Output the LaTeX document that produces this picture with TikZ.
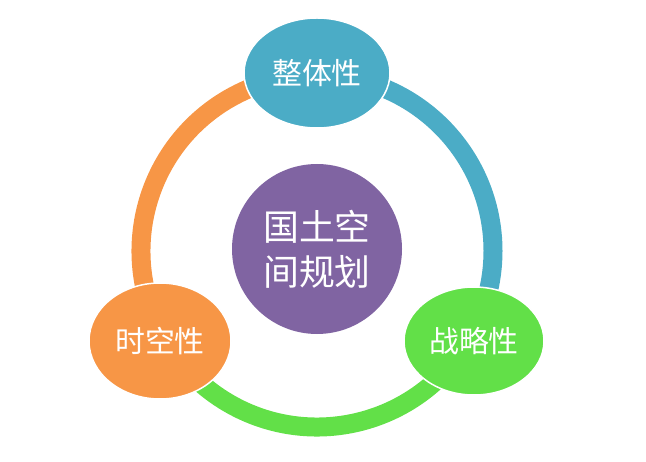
\documentclass[tikz,border=0pt]{standalone}
\usepackage{fontspec}
\newfontfamily\cjk{Noto Sans CJK SC}
\usetikzlibrary{shapes.geometric}
\definecolor{cteal}{RGB}{75,172,198}
\definecolor{corange}{RGB}{247,150,70}
\definecolor{cgreen}{RGB}{98,224,72}
\definecolor{cpurple}{RGB}{128,100,162}
\tikzset{
  ring/.style={line width=19bp, line cap=butt},
  petal/.style={ellipse, draw=white, line width=1.5bp, inner sep=0pt, text=white,
    font=\cjk\fontsize{30}{34}\selectfont},
}
\begin{document}
\begin{tikzpicture}[x=1bp,y=1bp]
\useasboundingbox (0,0) rectangle (646,-462);
\coordinate (c) at (317,-251);
\draw[ring, cteal] ([shift={(c)}]90:176) arc[start angle=90, end angle=-30, radius=176];
\draw[ring, cgreen] ([shift={(c)}]-30:176) arc[start angle=-30, end angle=-150, radius=176];
\draw[ring, corange] ([shift={(c)}]210:176) arc[start angle=210, end angle=90, radius=176];
\node[circle, fill=cpurple, minimum size=170bp, inner sep=0pt, text=white, align=center,
  font=\cjk\fontsize{36}{45}\selectfont] (core) at (317,-249) {国土空\\间规划};
\node[petal, fill=cteal, minimum width=146bp, minimum height=110bp] (top) at (317,-73) {整体性};
\node[petal, fill=corange, minimum width=142bp, minimum height=116bp] (left) at (160,-341) {时空性};
\node[petal, fill=cgreen, minimum width=140bp, minimum height=108bp] (right) at (474,-341) {战略性};
\end{tikzpicture}
\end{document}
